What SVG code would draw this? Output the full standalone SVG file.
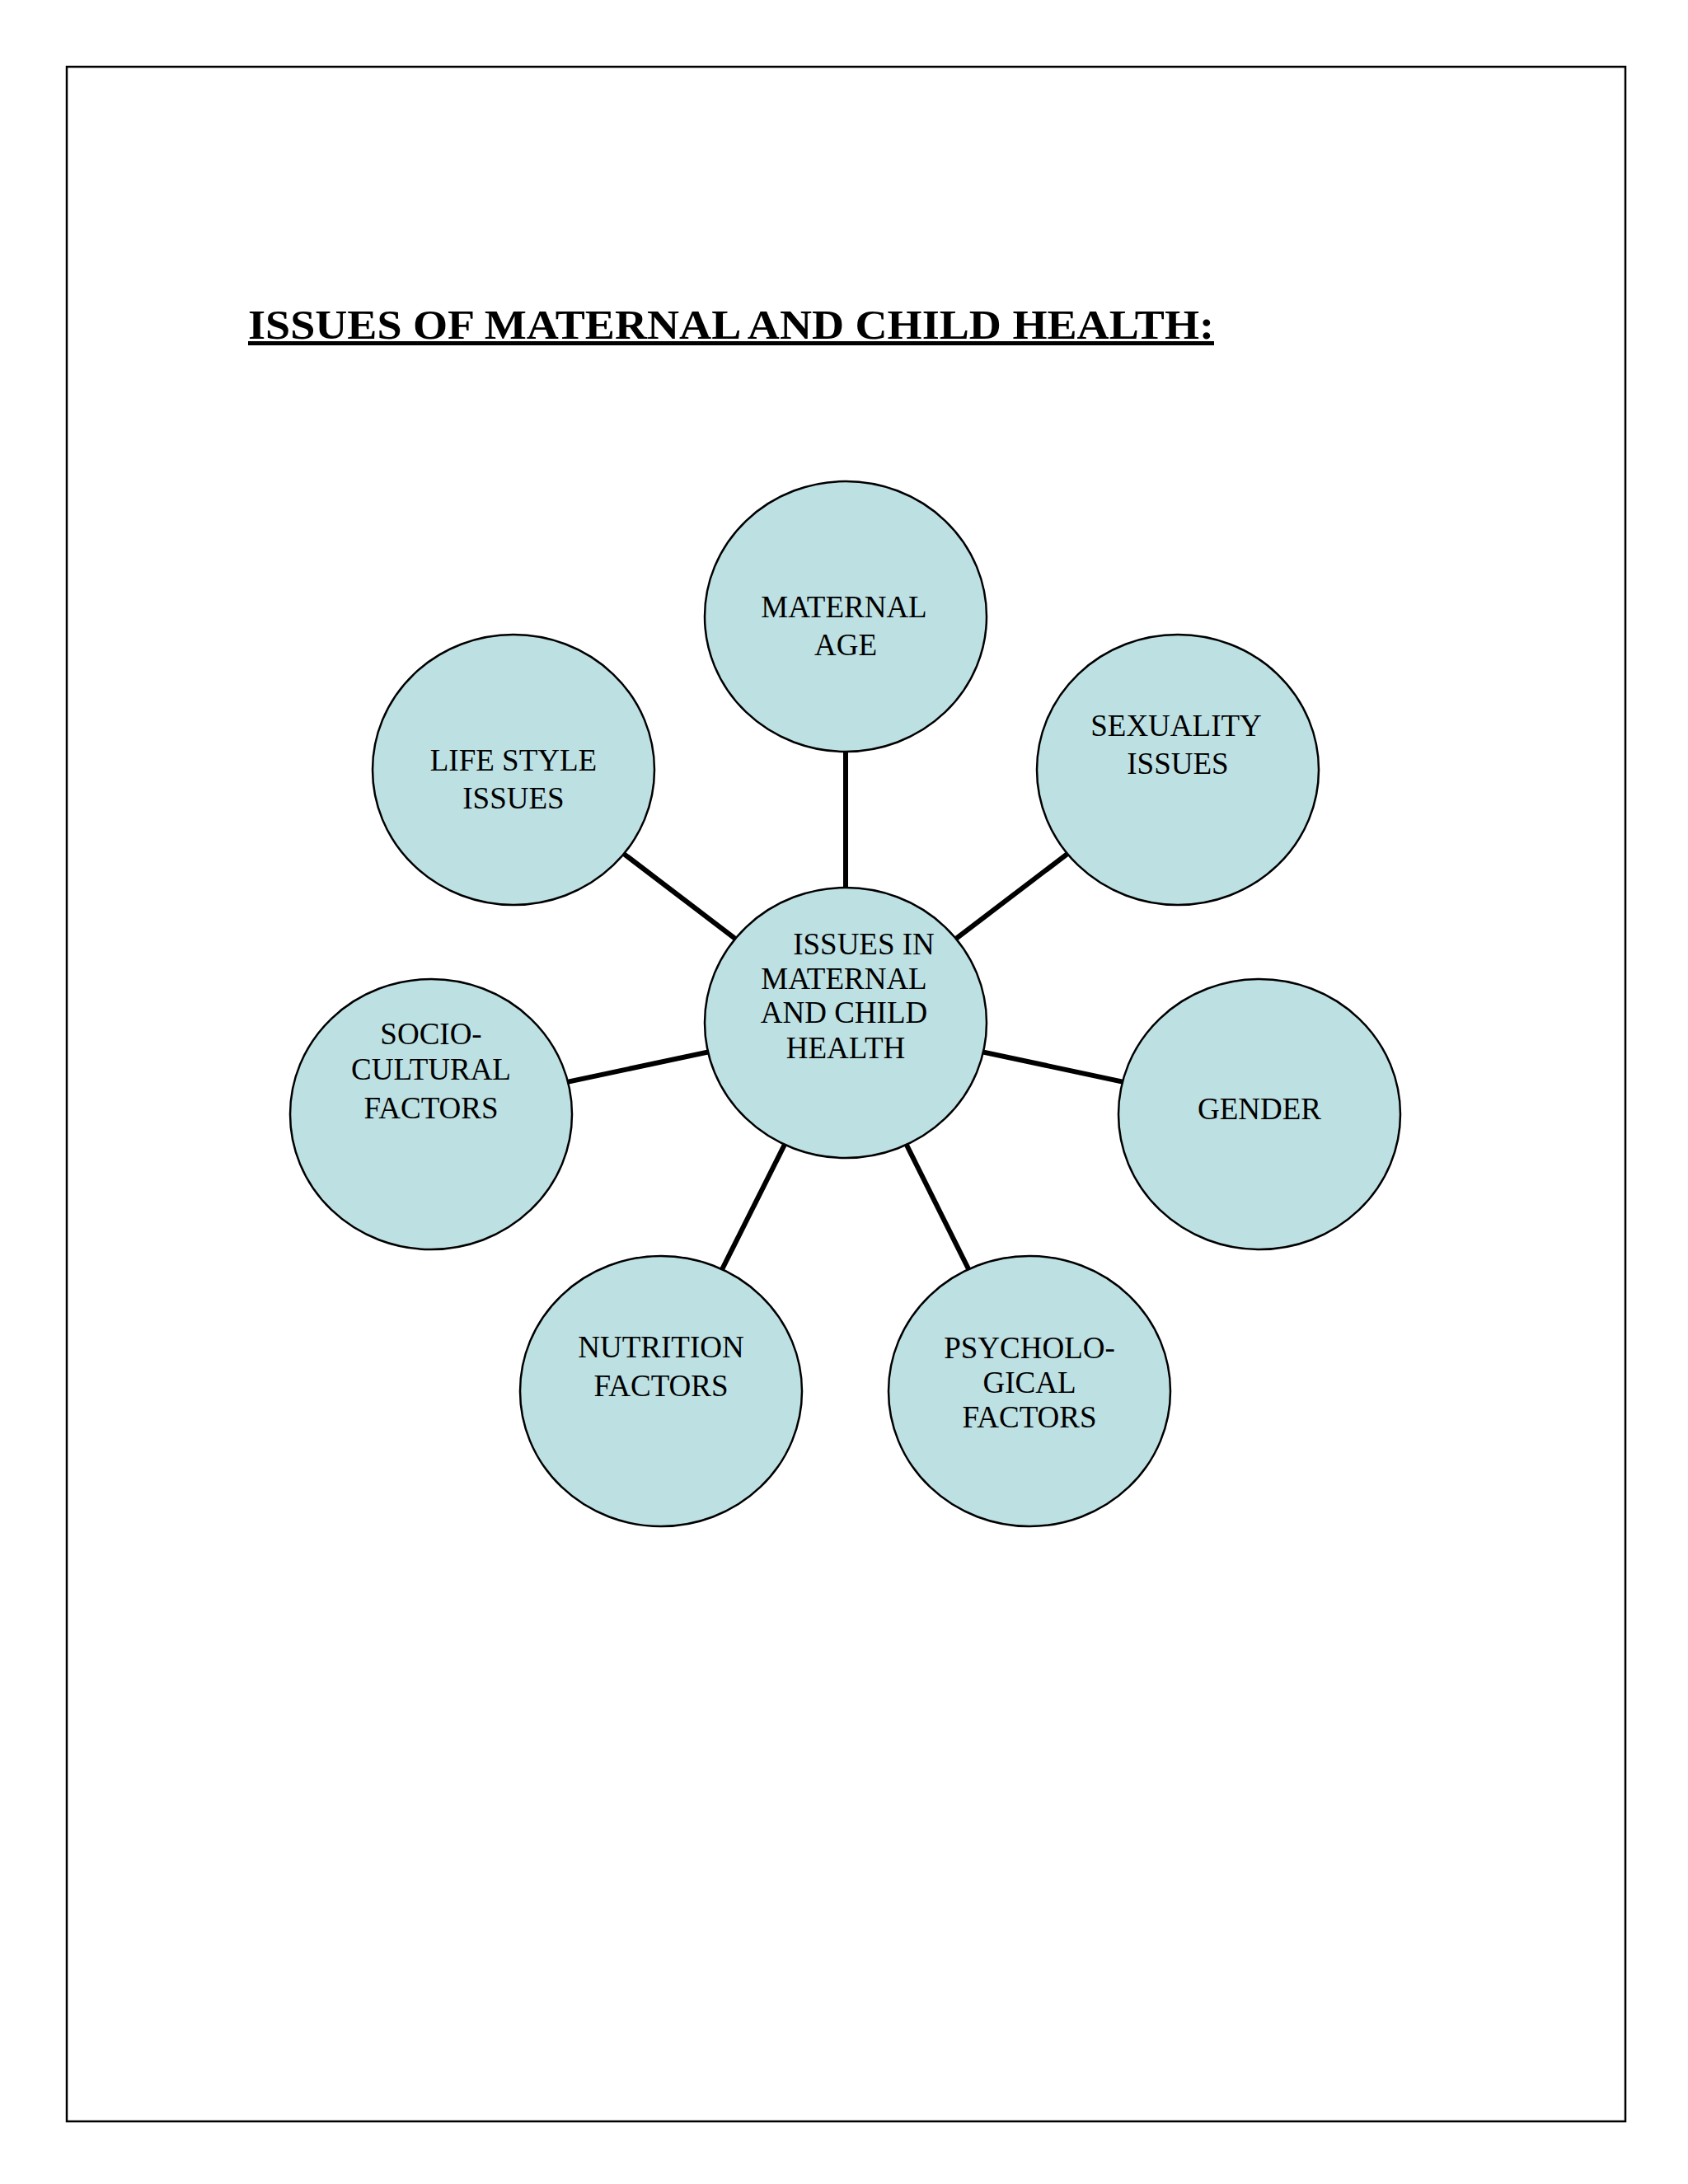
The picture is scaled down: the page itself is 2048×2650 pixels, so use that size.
<svg xmlns="http://www.w3.org/2000/svg" width="2048" height="2650" viewBox="0 0 2048 2650">
<style>
.n{fill:#bde0e3;stroke:#000;stroke-width:2.5}
.t{font-family:"Liberation Serif",serif;font-size:37px;fill:#000;text-anchor:middle}
.c line{stroke:#000;stroke-width:6}
</style>
<rect width="2048" height="2650" fill="#fff"/>
<rect x="81" y="81" width="1891" height="2493" fill="none" stroke="#000" stroke-width="2.5"/>
<text x="301" y="411" font-family="Liberation Serif,serif" font-weight="bold" font-size="50" text-decoration="underline" textLength="1172" lengthAdjust="spacingAndGlyphs">ISSUES OF MATERNAL  AND CHILD  HEALTH:</text>
<g class="c">
<line x1="1026" y1="1241" x2="1026" y2="748"/>
<line x1="1026" y1="1241" x2="1429" y2="934"/>
<line x1="1026" y1="1241" x2="623" y2="934"/>
<line x1="1026" y1="1241" x2="1528" y2="1348"/>
<line x1="1026" y1="1241" x2="523" y2="1348"/>
<line x1="1026" y1="1241" x2="802" y2="1688"/>
<line x1="1026" y1="1241" x2="1249" y2="1688"/>
</g>
<g id="center"><ellipse class="n" cx="1026" cy="1241" rx="171" ry="164"/>
<text class="t" x="1048" y="1158">ISSUES IN</text><text class="t" x="1024" y="1200">MATERNAL</text><text class="t" x="1024" y="1241">AND CHILD</text><text class="t" x="1026" y="1284">HEALTH</text></g>
<g id="maternal"><ellipse class="n" cx="1026" cy="748" rx="171" ry="164"/>
<text class="t" x="1024" y="749">MATERNAL</text><text class="t" x="1026" y="795">AGE</text></g>
<g id="sexuality"><ellipse class="n" cx="1429" cy="934" rx="171" ry="164"/>
<text class="t" x="1427" y="893">SEXUALITY</text><text class="t" x="1429" y="939">ISSUES</text></g>
<g id="lifestyle"><ellipse class="n" cx="623" cy="934" rx="171" ry="164"/>
<text class="t" x="623" y="935">LIFE STYLE</text><text class="t" x="623" y="981">ISSUES</text></g>
<g id="socio"><ellipse class="n" cx="523" cy="1352" rx="171" ry="164"/>
<text class="t" x="523" y="1267">SOCIO-</text><text class="t" x="523" y="1310">CULTURAL</text><text class="t" x="523" y="1357">FACTORS</text></g>
<g id="gender"><ellipse class="n" cx="1528" cy="1352" rx="171" ry="164"/>
<text class="t" x="1528" y="1358">GENDER</text></g>
<g id="nutrition"><ellipse class="n" cx="802" cy="1688" rx="171" ry="164"/>
<text class="t" x="802" y="1647">NUTRITION</text><text class="t" x="802" y="1694">FACTORS</text></g>
<g id="psycho"><ellipse class="n" cx="1249" cy="1688" rx="171" ry="164"/>
<text class="t" x="1249" y="1648">PSYCHOLO-</text><text class="t" x="1249" y="1690">GICAL</text><text class="t" x="1249" y="1732">FACTORS</text></g>
</svg>
